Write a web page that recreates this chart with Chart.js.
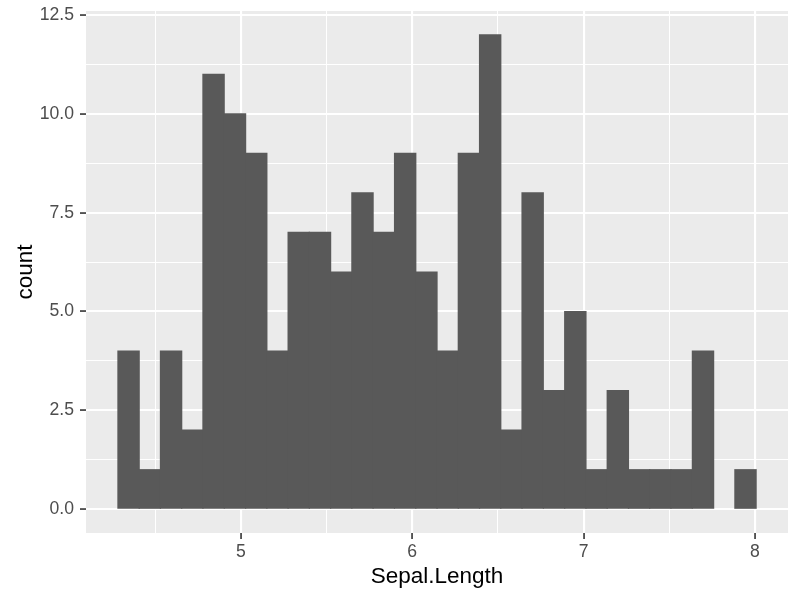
<!DOCTYPE html>
<html>
<head>
<meta charset="utf-8">
<script src="https://cdn.jsdelivr.net/npm/chart.js@4"></script>
<style>
  html, body { margin: 0; padding: 0; background: #ffffff; }
</style>
</head>
<body>
<canvas id="chart" width="800" height="600"></canvas>
<script>
// bin centres of Sepal.Length histogram (30 bins)
const binCenters = [4.345, 4.469, 4.593, 4.717, 4.841, 4.966, 5.090, 5.214, 5.338, 5.462,
  5.586, 5.710, 5.834, 5.959, 6.083, 6.207, 6.331, 6.455, 6.579, 6.703,
  6.828, 6.952, 7.076, 7.200, 7.324, 7.448, 7.572, 7.697, 7.821, 7.945]
const counts = [4, 1, 4, 2, 11, 10, 9, 4, 7, 7,
  6, 8, 7, 9, 6, 4, 9, 12, 2, 8,
  3, 5, 1, 3, 1, 1, 1, 4, 0, 1]

const xMajor = [5, 6, 7, 8]
const xMinor = [4.5, 5.5, 6.5, 7.5]
const yMajor = [0, 2.5, 5, 7.5, 10, 12.5]
const yMinor = [1.25, 3.75, 6.25, 8.75, 11.25]

const fontFam = "'Liberation Sans', Arial, sans-serif"

const panelBg = {
  id: 'panelBg',
  beforeDraw(chart) {
    const {ctx, chartArea: a} = chart
    ctx.save()
    ctx.fillStyle = '#EBEBEB'
    ctx.fillRect(a.left, a.top, a.right - a.left, a.bottom - a.top)
    ctx.restore()
  }
}

const isMajor = (list, c) => c.tick && list.some(m => Math.abs(m - c.tick.value) < 1e-6)

new Chart(document.getElementById('chart'), {
  type: 'bar',
  data: {
    datasets: [{
      // empty bins draw nothing
      data: binCenters.map((x, i) => ({x: x, y: counts[i] === 0 ? null : counts[i]})),
      backgroundColor: '#595959',
      borderWidth: 0,
      inflateAmount: 0.6,
      barPercentage: 1.0,
      categoryPercentage: 1.0
    }]
  },
  plugins: [panelBg],
  options: {
    responsive: false,
    animation: false,
    layout: { padding: { left: 0, top: 11, right: 12, bottom: 0 } },
    plugins: {
      legend: { display: false },
      tooltip: { enabled: false }
    },
    scales: {
      x: {
        type: 'linear',
        offset: false,
        min: 4.0966,
        max: 8.193,
        afterFit: (s) => { s.height = 67; s.paddingLeft = 0; s.paddingRight = 0 },
        afterBuildTicks: (s) => {
          s.ticks = xMinor.concat(xMajor).sort((a, b) => a - b).map(v => ({value: v}))
        },
        ticks: {
          autoSkip: false,
          maxRotation: 0,
          padding: 3,
          color: '#4D4D4D',
          font: { family: fontFam, size: 17.6 },
          callback: (v) => xMajor.includes(v) ? String(v) : ''
        },
        grid: {
          offset: false,
          color: '#ffffff',
          lineWidth: (c) => isMajor(xMajor, c) ? 2.1 : 1.05,
          tickLength: 6,
          tickWidth: 1.6,
          tickColor: (c) => isMajor(xMajor, c) ? '#333333' : 'rgba(0,0,0,0)'
        },
        border: { display: false },
        title: {
          display: true,
          text: 'Sepal.Length',
          color: '#000000',
          font: { family: fontFam, size: 22.5 },
          padding: { top: 0, bottom: 10 }
        }
      },
      y: {
        type: 'linear',
        min: -0.6,
        max: 12.6,
        afterFit: (s) => { s.width = 86; s.paddingTop = 0; s.paddingBottom = 0 },
        afterBuildTicks: (s) => {
          s.ticks = yMinor.concat(yMajor).sort((a, b) => a - b).map(v => ({value: v}))
        },
        ticks: {
          autoSkip: false,
          padding: 6,
          color: '#4D4D4D',
          font: { family: fontFam, size: 17.6 },
          callback: (v) => yMajor.includes(v) ? v.toFixed(1) : ''
        },
        grid: {
          color: '#ffffff',
          lineWidth: (c) => isMajor(yMajor, c) ? 2.1 : 1.05,
          tickLength: 6,
          tickWidth: 1.6,
          tickColor: (c) => isMajor(yMajor, c) ? '#333333' : 'rgba(0,0,0,0)'
        },
        border: { display: false },
        title: {
          display: true,
          text: 'count',
          color: '#000000',
          font: { family: fontFam, size: 22.5 },
          padding: { top: 12, bottom: 0 }
        }
      }
    }
  }
})
</script>
</body>
</html>
